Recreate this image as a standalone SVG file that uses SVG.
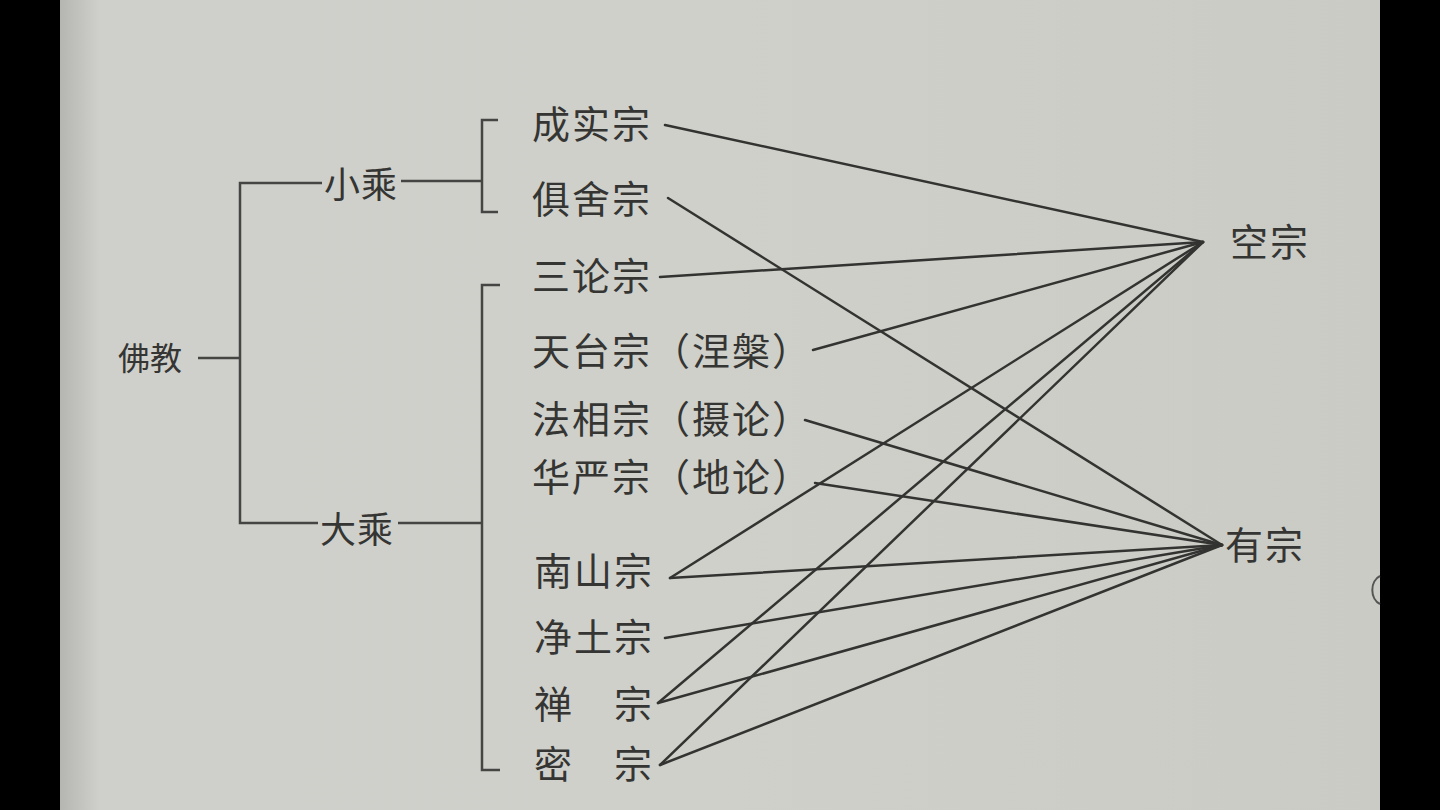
<svg xmlns="http://www.w3.org/2000/svg" width="1440" height="810" viewBox="0 0 1440 810">
<defs>
<linearGradient id="page" x1="0" y1="0" x2="1" y2="0">
<stop offset="0" stop-color="#b5b6b1"/>
<stop offset="0.03" stop-color="#cfd0cb"/>
<stop offset="0.5" stop-color="#cfd0ca"/>
<stop offset="1" stop-color="#cacbc5"/>
</linearGradient>
<style>
.t{font-family:"Noto Sans CJK SC","Noto Sans CJK TC",sans-serif;fill:#353533;font-size:38px;letter-spacing:2px;}
.s{font-size:32px;letter-spacing:0;}
.m{font-size:36px;letter-spacing:1px;}
.l{stroke:#333331;stroke-width:2.5;fill:none;stroke-linecap:round;}
.b{stroke:#454543;stroke-width:2.5;fill:none;}
</style>
</defs>
<rect x="0" y="0" width="1440" height="810" fill="#000"/>
<rect x="60" y="0" width="1320" height="810" fill="url(#page)"/>
<path d="M1380 576 A12 15 0 0 0 1380 604" stroke="#555" stroke-width="2" fill="none"/>

<g id="tree" class="b">
<path d="M198 358 H240"/>
<path d="M322 183 H240 V523 H318"/>
<path d="M401 181 H482"/>
<path d="M498 120 H482 V212 H498"/>
<path d="M398 523 H482"/>
<path d="M500 285 H482 V770 H500"/>
</g>

<g id="n-fojiao"><text class="t s" x="118" y="370">佛教</text></g>
<g id="n-xiaocheng"><text class="t m" x="324" y="198">小乘</text></g>
<g id="n-dacheng"><text class="t m" x="320" y="543">大乘</text></g>
<g id="n-chengshi"><text class="t" x="532" y="138">成实宗</text></g>
<g id="n-jushe"><text class="t" x="532" y="213">俱舍宗</text></g>
<g id="n-sanlun"><text class="t" x="532" y="290">三论宗</text></g>
<g id="n-tiantai"><text class="t" x="532" y="365">天台宗（涅槃）</text></g>
<g id="n-faxiang"><text class="t" x="532" y="433">法相宗（摄论）</text></g>
<g id="n-huayan"><text class="t" x="532" y="491">华严宗（地论）</text></g>
<g id="n-nanshan"><text class="t" x="534" y="585">南山宗</text></g>
<g id="n-jingtu"><text class="t" x="534" y="651">净土宗</text></g>
<g id="n-chan"><text class="t" x="534" y="718">禅　宗</text></g>
<g id="n-mi"><text class="t" x="534" y="778">密　宗</text></g>
<g id="n-kong"><text class="t" x="1230" y="256">空宗</text></g>
<g id="n-you"><text class="t" x="1225" y="559">有宗</text></g>

<g id="connectors" class="l">
<line x1="665" y1="125" x2="1203" y2="242"/>
<line x1="660" y1="277" x2="1203" y2="242"/>
<line x1="813" y1="350" x2="1203" y2="242"/>
<line x1="670" y1="578" x2="1203" y2="242"/>
<line x1="658" y1="703" x2="1203" y2="242"/>
<line x1="660" y1="765" x2="1203" y2="242"/>
<line x1="668" y1="198" x2="1222" y2="545"/>
<line x1="805" y1="420" x2="1222" y2="545"/>
<line x1="815" y1="483" x2="1222" y2="545"/>
<line x1="670" y1="578" x2="1222" y2="545"/>
<line x1="665" y1="638" x2="1222" y2="545"/>
<line x1="658" y1="703" x2="1222" y2="545"/>
<line x1="660" y1="765" x2="1222" y2="545"/>
</g>
</svg>
